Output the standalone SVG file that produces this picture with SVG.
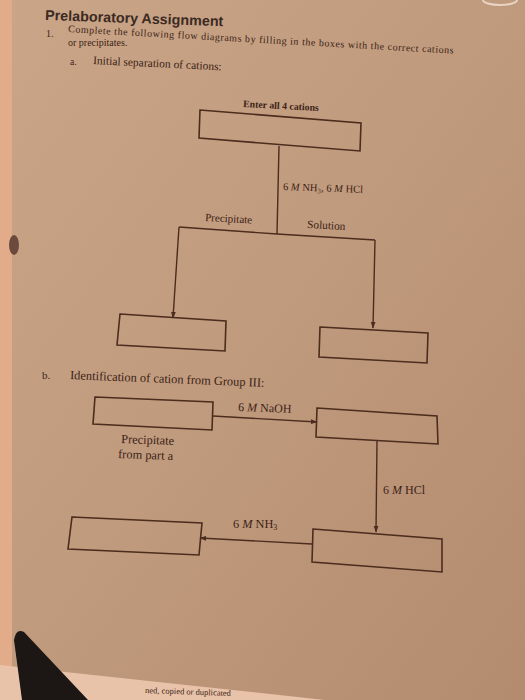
<svg xmlns="http://www.w3.org/2000/svg" width="525" height="700" viewBox="0 0 525 700">
<defs>
<linearGradient id="paper" x1="0" y1="0" x2="1" y2="1">
<stop offset="0" stop-color="#cba587"/>
<stop offset="0.5" stop-color="#c09a7d"/>
<stop offset="1" stop-color="#b38b6f"/>
</linearGradient>
<marker id="arr" viewBox="0 0 10 10" refX="9" refY="5" markerWidth="7" markerHeight="7" orient="auto" markerUnits="userSpaceOnUse">
<path d="M0,1.5 L10,5 L0,8.5 z" fill="#4b2c1e"/>
</marker>
<style>
.box{fill:none;stroke:#4b2c1e;stroke-width:1.6;stroke-linejoin:miter}
.ln{fill:none;stroke:#4b2c1e;stroke-width:1.4}
.t{font-family:"Liberation Serif",serif;fill:#3b2317}
.lbl{font-family:"Liberation Serif",serif;fill:#3b2317}
.h{font-family:"Liberation Sans",Arial,sans-serif;font-weight:bold;fill:#3a2a22;font-size:14.3px}
</style>
</defs>
<!-- background -->
<rect x="0" y="0" width="525" height="700" fill="url(#paper)"/>
<rect x="0" y="0" width="12" height="700" fill="#e2ac8a"/>
<ellipse cx="14" cy="245" rx="5" ry="10" fill="#6a4a3c"/>
<path d="M0,665 L325,700 L0,700 z" fill="#e9c3a9"/>
<path d="M14,640 Q16,628 24,632 L88,700 L22,700 Q18,670 14,640 z" fill="#1c1614"/>
<ellipse cx="500" cy="0" rx="17" ry="5" fill="none" stroke="#e8d4c4" stroke-width="2"/>
<text class="t" x="145" y="693" font-size="8.5" transform="rotate(2 145 693)">ned, copied or duplicated</text>

<!-- header text -->
<text class="h" x="45" y="20" transform="rotate(2 45 20)">Prelaboratory Assignment</text>
<text class="t" x="46" y="37" font-size="10">1.</text>
<text class="t" x="68" y="32" font-size="10" textLength="386" transform="rotate(3.2 68 32)">Complete the following flow diagrams by filling in the boxes with the correct cations</text>
<text class="t" x="68" y="46" font-size="10">or precipitates.</text>
<text class="t" x="70" y="65" font-size="9.5">a.</text>
<text class="t" x="93" y="64" font-size="11.5" transform="rotate(2.8 93 64)">Initial separation of cations:</text>

<!-- part a nodes -->
<g id="a-start">
<path class="box" d="M200,110 L361,123 L360,151 L199,138 z"/>
<text class="lbl" x="243" y="107" font-size="9.8" font-weight="bold" transform="rotate(3 243 107)">Enter all 4 cations</text>
</g>
<g id="a-precipitate">
<path class="box" d="M120,314 L226,321 L225,351 L117,345 z"/>
</g>
<g id="a-solution">
<path class="box" d="M320,327 L428,333 L427,363 L319,357 z"/>
</g>

<!-- part b -->
<text class="t" x="42" y="379" font-size="11">b.</text>
<text class="t" x="70" y="379" font-size="12.4" transform="rotate(2.3 70 379)">Identification of cation from Group III:</text>
<g id="b-start">
<path class="box" d="M95,397 L213,402 L212,430 L93,424 z"/>
<text class="lbl" x="121" y="443" font-size="12.4" transform="rotate(2 121 443)">Precipitate</text>
<text class="lbl" x="118" y="458" font-size="12.4" transform="rotate(2 118 458)">from part a</text>
</g>
<g id="b-naoh">
<path class="box" d="M317,408 L437,416 L438,444 L316,437 z"/>
</g>
<g id="b-hcl">
<path class="box" d="M313,529 L442,539 L442,572 L312,562 z"/>
</g>
<g id="b-nh3">
<path class="box" d="M72,517 L202,523 L199,555 L68,549 z"/>
</g>

<!-- connectors -->
<g id="connectors">
<path class="ln" d="M279,146 L277,234"/>
<path class="ln" d="M179,227 L277,234 L375,240"/>
<path class="ln" d="M179,227 L173,318" marker-end="url(#arr)"/>
<path class="ln" d="M375,240 L373,328" marker-end="url(#arr)"/>
<text class="lbl" x="283" y="190" font-size="10.5" transform="rotate(2 283 190)">6 <tspan font-style="italic">M</tspan> NH<tspan font-size="7" dy="2">3</tspan><tspan dy="-2">, 6 </tspan><tspan font-style="italic">M</tspan> HCl</text>
<text class="lbl" x="205" y="221" font-size="11" transform="rotate(3 205 221)">Precipitate</text>
<text class="lbl" x="307" y="228" font-size="11.3" transform="rotate(3 307 228)">Solution</text>

<path class="ln" d="M213,416 L317,422" marker-end="url(#arr)"/>
<text class="lbl" x="238" y="411" font-size="12" transform="rotate(2 238 411)">6 <tspan font-style="italic">M</tspan> NaOH</text>
<path class="ln" d="M377,441 L376,532" marker-end="url(#arr)"/>
<text class="lbl" x="383" y="494" font-size="12">6 <tspan font-style="italic">M</tspan> HCl</text>
<path class="ln" d="M312,544 L200,538" marker-end="url(#arr)"/>
<text class="lbl" x="233" y="528" font-size="12.3">6 <tspan font-style="italic">M</tspan> NH<tspan font-size="8" dy="2">3</tspan></text>
</g>
</svg>
